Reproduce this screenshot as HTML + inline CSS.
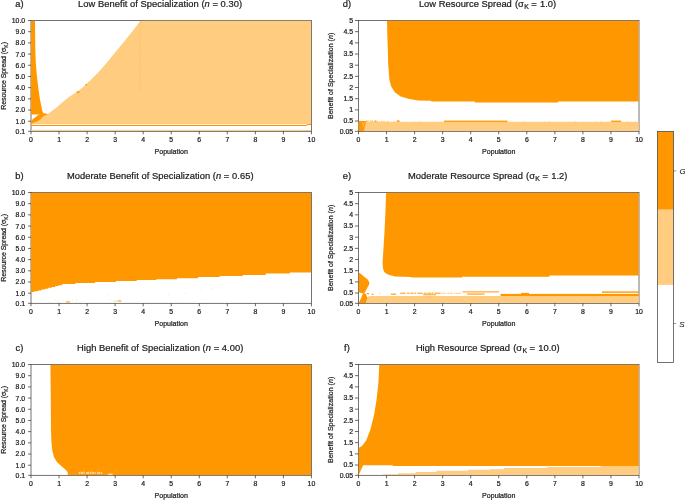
<!DOCTYPE html>
<html lang="en"><head><meta charset="utf-8"><title>Specialization figure</title>
<style>html,body{margin:0;padding:0;background:#fff}svg{display:block}text{font-family:"Liberation Sans", sans-serif;fill:#1a1a1a;stroke:#222;stroke-width:.22px}</style>
</head><body>
<svg width="685" height="500" viewBox="0 0 685 500">
<rect width="685" height="500" fill="#fff"/>
<rect x="31.00" y="20.50" width="280.45" height="110.80" fill="none" stroke="#383838" stroke-width="0.7"/>
<path d="M31.00 131.30v3.0M59.05 131.30v3.0M87.09 131.30v3.0M115.13 131.30v3.0M143.18 131.30v3.0M171.22 131.30v3.0M199.27 131.30v3.0M227.31 131.30v3.0M255.36 131.30v3.0M283.40 131.30v3.0M311.45 131.30v3.0M31.00 20.50h-2.9M31.00 31.69h-2.9M31.00 42.88h-2.9M31.00 54.07h-2.9M31.00 65.26h-2.9M31.00 76.45h-2.9M31.00 87.64h-2.9M31.00 98.83h-2.9M31.00 110.02h-2.9M31.00 121.21h-2.9M31.00 131.30h-2.9" stroke="#383838" stroke-width="0.75" fill="none"/>
<text x="31.00" y="141.70" font-size="6.90" text-anchor="middle" >0</text>
<text x="59.05" y="141.70" font-size="6.90" text-anchor="middle" >1</text>
<text x="87.09" y="141.70" font-size="6.90" text-anchor="middle" >2</text>
<text x="115.13" y="141.70" font-size="6.90" text-anchor="middle" >3</text>
<text x="143.18" y="141.70" font-size="6.90" text-anchor="middle" >4</text>
<text x="171.22" y="141.70" font-size="6.90" text-anchor="middle" >5</text>
<text x="199.27" y="141.70" font-size="6.90" text-anchor="middle" >6</text>
<text x="227.31" y="141.70" font-size="6.90" text-anchor="middle" >7</text>
<text x="255.36" y="141.70" font-size="6.90" text-anchor="middle" >8</text>
<text x="283.40" y="141.70" font-size="6.90" text-anchor="middle" >9</text>
<text x="311.45" y="141.70" font-size="6.90" text-anchor="middle" >10</text>
<text x="25.20" y="22.95" font-size="6.90" text-anchor="end" >10.0</text>
<text x="25.20" y="34.14" font-size="6.90" text-anchor="end" >9.0</text>
<text x="25.20" y="45.33" font-size="6.90" text-anchor="end" >8.0</text>
<text x="25.20" y="56.52" font-size="6.90" text-anchor="end" >7.0</text>
<text x="25.20" y="67.71" font-size="6.90" text-anchor="end" >6.0</text>
<text x="25.20" y="78.90" font-size="6.90" text-anchor="end" >5.0</text>
<text x="25.20" y="90.09" font-size="6.90" text-anchor="end" >4.0</text>
<text x="25.20" y="101.28" font-size="6.90" text-anchor="end" >3.0</text>
<text x="25.20" y="112.47" font-size="6.90" text-anchor="end" >2.0</text>
<text x="25.20" y="123.66" font-size="6.90" text-anchor="end" >1.0</text>
<text x="25.20" y="133.75" font-size="6.90" text-anchor="end" >0.1</text>
<text x="171.22" y="153.60" font-size="7.05" text-anchor="middle" >Population</text>
<text transform="translate(6.20 75.90) rotate(-90)" font-size="7.05" text-anchor="middle" textLength="67.8" lengthAdjust="spacing">Resource Spread (σ<tspan font-size="5" dy="1.3">K</tspan><tspan dy="-1.3">)</tspan></text>
<rect x="358.50" y="20.50" width="280.50" height="110.80" fill="none" stroke="#383838" stroke-width="0.7"/>
<path d="M358.50 131.30v3.0M386.55 131.30v3.0M414.60 131.30v3.0M442.65 131.30v3.0M470.70 131.30v3.0M498.75 131.30v3.0M526.80 131.30v3.0M554.85 131.30v3.0M582.90 131.30v3.0M610.95 131.30v3.0M639.00 131.30v3.0M358.50 20.50h-3.6M358.50 31.67h-3.6M358.50 42.84h-3.6M358.50 54.01h-3.6M358.50 65.18h-3.6M358.50 76.35h-3.6M358.50 87.52h-3.6M358.50 98.69h-3.6M358.50 109.86h-3.6M358.50 121.03h-3.6M358.50 131.30h-3.6" stroke="#383838" stroke-width="0.75" fill="none"/>
<text x="358.50" y="141.70" font-size="6.90" text-anchor="middle" >0</text>
<text x="386.55" y="141.70" font-size="6.90" text-anchor="middle" >1</text>
<text x="414.60" y="141.70" font-size="6.90" text-anchor="middle" >2</text>
<text x="442.65" y="141.70" font-size="6.90" text-anchor="middle" >3</text>
<text x="470.70" y="141.70" font-size="6.90" text-anchor="middle" >4</text>
<text x="498.75" y="141.70" font-size="6.90" text-anchor="middle" >5</text>
<text x="526.80" y="141.70" font-size="6.90" text-anchor="middle" >6</text>
<text x="554.85" y="141.70" font-size="6.90" text-anchor="middle" >7</text>
<text x="582.90" y="141.70" font-size="6.90" text-anchor="middle" >8</text>
<text x="610.95" y="141.70" font-size="6.90" text-anchor="middle" >9</text>
<text x="639.00" y="141.70" font-size="6.90" text-anchor="middle" >10</text>
<text x="353.10" y="22.95" font-size="6.90" text-anchor="end" >5</text>
<text x="353.10" y="34.12" font-size="6.90" text-anchor="end" >4.5</text>
<text x="353.10" y="45.29" font-size="6.90" text-anchor="end" >4</text>
<text x="353.10" y="56.46" font-size="6.90" text-anchor="end" >3.5</text>
<text x="353.10" y="67.63" font-size="6.90" text-anchor="end" >3</text>
<text x="353.10" y="78.80" font-size="6.90" text-anchor="end" >2.5</text>
<text x="353.10" y="89.97" font-size="6.90" text-anchor="end" >2</text>
<text x="353.10" y="101.14" font-size="6.90" text-anchor="end" >1.5</text>
<text x="353.10" y="112.31" font-size="6.90" text-anchor="end" >1</text>
<text x="353.10" y="123.48" font-size="6.90" text-anchor="end" >0.5</text>
<text x="353.10" y="133.75" font-size="6.90" text-anchor="end" >0.05</text>
<text x="498.75" y="153.60" font-size="7.05" text-anchor="middle" >Population</text>
<text transform="translate(332.80 75.90) rotate(-90)" font-size="7.05" text-anchor="middle" textLength="86.3" lengthAdjust="spacing">Benefit of Specialization (<tspan font-style="italic">n</tspan>)</text>
<rect x="31.00" y="192.50" width="280.45" height="110.80" fill="none" stroke="#383838" stroke-width="0.7"/>
<path d="M31.00 303.30v3.0M59.05 303.30v3.0M87.09 303.30v3.0M115.13 303.30v3.0M143.18 303.30v3.0M171.22 303.30v3.0M199.27 303.30v3.0M227.31 303.30v3.0M255.36 303.30v3.0M283.40 303.30v3.0M311.45 303.30v3.0M31.00 192.50h-2.9M31.00 203.69h-2.9M31.00 214.88h-2.9M31.00 226.07h-2.9M31.00 237.26h-2.9M31.00 248.45h-2.9M31.00 259.64h-2.9M31.00 270.83h-2.9M31.00 282.02h-2.9M31.00 293.21h-2.9M31.00 303.30h-2.9" stroke="#383838" stroke-width="0.75" fill="none"/>
<text x="31.00" y="313.70" font-size="6.90" text-anchor="middle" >0</text>
<text x="59.05" y="313.70" font-size="6.90" text-anchor="middle" >1</text>
<text x="87.09" y="313.70" font-size="6.90" text-anchor="middle" >2</text>
<text x="115.13" y="313.70" font-size="6.90" text-anchor="middle" >3</text>
<text x="143.18" y="313.70" font-size="6.90" text-anchor="middle" >4</text>
<text x="171.22" y="313.70" font-size="6.90" text-anchor="middle" >5</text>
<text x="199.27" y="313.70" font-size="6.90" text-anchor="middle" >6</text>
<text x="227.31" y="313.70" font-size="6.90" text-anchor="middle" >7</text>
<text x="255.36" y="313.70" font-size="6.90" text-anchor="middle" >8</text>
<text x="283.40" y="313.70" font-size="6.90" text-anchor="middle" >9</text>
<text x="311.45" y="313.70" font-size="6.90" text-anchor="middle" >10</text>
<text x="25.20" y="194.95" font-size="6.90" text-anchor="end" >10.0</text>
<text x="25.20" y="206.14" font-size="6.90" text-anchor="end" >9.0</text>
<text x="25.20" y="217.33" font-size="6.90" text-anchor="end" >8.0</text>
<text x="25.20" y="228.52" font-size="6.90" text-anchor="end" >7.0</text>
<text x="25.20" y="239.71" font-size="6.90" text-anchor="end" >6.0</text>
<text x="25.20" y="250.90" font-size="6.90" text-anchor="end" >5.0</text>
<text x="25.20" y="262.09" font-size="6.90" text-anchor="end" >4.0</text>
<text x="25.20" y="273.28" font-size="6.90" text-anchor="end" >3.0</text>
<text x="25.20" y="284.47" font-size="6.90" text-anchor="end" >2.0</text>
<text x="25.20" y="295.66" font-size="6.90" text-anchor="end" >1.0</text>
<text x="25.20" y="305.75" font-size="6.90" text-anchor="end" >0.1</text>
<text x="171.22" y="325.60" font-size="7.05" text-anchor="middle" >Population</text>
<text transform="translate(6.20 247.90) rotate(-90)" font-size="7.05" text-anchor="middle" textLength="67.8" lengthAdjust="spacing">Resource Spread (σ<tspan font-size="5" dy="1.3">K</tspan><tspan dy="-1.3">)</tspan></text>
<rect x="358.50" y="192.50" width="280.50" height="110.80" fill="none" stroke="#383838" stroke-width="0.7"/>
<path d="M358.50 303.30v3.0M386.55 303.30v3.0M414.60 303.30v3.0M442.65 303.30v3.0M470.70 303.30v3.0M498.75 303.30v3.0M526.80 303.30v3.0M554.85 303.30v3.0M582.90 303.30v3.0M610.95 303.30v3.0M639.00 303.30v3.0M358.50 192.50h-3.6M358.50 203.67h-3.6M358.50 214.84h-3.6M358.50 226.01h-3.6M358.50 237.18h-3.6M358.50 248.35h-3.6M358.50 259.52h-3.6M358.50 270.69h-3.6M358.50 281.86h-3.6M358.50 293.03h-3.6M358.50 303.30h-3.6" stroke="#383838" stroke-width="0.75" fill="none"/>
<text x="358.50" y="313.70" font-size="6.90" text-anchor="middle" >0</text>
<text x="386.55" y="313.70" font-size="6.90" text-anchor="middle" >1</text>
<text x="414.60" y="313.70" font-size="6.90" text-anchor="middle" >2</text>
<text x="442.65" y="313.70" font-size="6.90" text-anchor="middle" >3</text>
<text x="470.70" y="313.70" font-size="6.90" text-anchor="middle" >4</text>
<text x="498.75" y="313.70" font-size="6.90" text-anchor="middle" >5</text>
<text x="526.80" y="313.70" font-size="6.90" text-anchor="middle" >6</text>
<text x="554.85" y="313.70" font-size="6.90" text-anchor="middle" >7</text>
<text x="582.90" y="313.70" font-size="6.90" text-anchor="middle" >8</text>
<text x="610.95" y="313.70" font-size="6.90" text-anchor="middle" >9</text>
<text x="639.00" y="313.70" font-size="6.90" text-anchor="middle" >10</text>
<text x="353.10" y="194.95" font-size="6.90" text-anchor="end" >5</text>
<text x="353.10" y="206.12" font-size="6.90" text-anchor="end" >4.5</text>
<text x="353.10" y="217.29" font-size="6.90" text-anchor="end" >4</text>
<text x="353.10" y="228.46" font-size="6.90" text-anchor="end" >3.5</text>
<text x="353.10" y="239.63" font-size="6.90" text-anchor="end" >3</text>
<text x="353.10" y="250.80" font-size="6.90" text-anchor="end" >2.5</text>
<text x="353.10" y="261.97" font-size="6.90" text-anchor="end" >2</text>
<text x="353.10" y="273.14" font-size="6.90" text-anchor="end" >1.5</text>
<text x="353.10" y="284.31" font-size="6.90" text-anchor="end" >1</text>
<text x="353.10" y="295.48" font-size="6.90" text-anchor="end" >0.5</text>
<text x="353.10" y="305.75" font-size="6.90" text-anchor="end" >0.05</text>
<text x="498.75" y="325.60" font-size="7.05" text-anchor="middle" >Population</text>
<text transform="translate(332.80 247.90) rotate(-90)" font-size="7.05" text-anchor="middle" textLength="86.3" lengthAdjust="spacing">Benefit of Specialization (<tspan font-style="italic">n</tspan>)</text>
<rect x="31.00" y="364.50" width="280.45" height="110.80" fill="none" stroke="#383838" stroke-width="0.7"/>
<path d="M31.00 475.30v3.0M59.05 475.30v3.0M87.09 475.30v3.0M115.13 475.30v3.0M143.18 475.30v3.0M171.22 475.30v3.0M199.27 475.30v3.0M227.31 475.30v3.0M255.36 475.30v3.0M283.40 475.30v3.0M311.45 475.30v3.0M31.00 364.50h-2.9M31.00 375.69h-2.9M31.00 386.88h-2.9M31.00 398.07h-2.9M31.00 409.26h-2.9M31.00 420.45h-2.9M31.00 431.64h-2.9M31.00 442.83h-2.9M31.00 454.02h-2.9M31.00 465.21h-2.9M31.00 475.30h-2.9" stroke="#383838" stroke-width="0.75" fill="none"/>
<text x="31.00" y="485.70" font-size="6.90" text-anchor="middle" >0</text>
<text x="59.05" y="485.70" font-size="6.90" text-anchor="middle" >1</text>
<text x="87.09" y="485.70" font-size="6.90" text-anchor="middle" >2</text>
<text x="115.13" y="485.70" font-size="6.90" text-anchor="middle" >3</text>
<text x="143.18" y="485.70" font-size="6.90" text-anchor="middle" >4</text>
<text x="171.22" y="485.70" font-size="6.90" text-anchor="middle" >5</text>
<text x="199.27" y="485.70" font-size="6.90" text-anchor="middle" >6</text>
<text x="227.31" y="485.70" font-size="6.90" text-anchor="middle" >7</text>
<text x="255.36" y="485.70" font-size="6.90" text-anchor="middle" >8</text>
<text x="283.40" y="485.70" font-size="6.90" text-anchor="middle" >9</text>
<text x="311.45" y="485.70" font-size="6.90" text-anchor="middle" >10</text>
<text x="25.20" y="366.95" font-size="6.90" text-anchor="end" >10.0</text>
<text x="25.20" y="378.14" font-size="6.90" text-anchor="end" >9.0</text>
<text x="25.20" y="389.33" font-size="6.90" text-anchor="end" >8.0</text>
<text x="25.20" y="400.52" font-size="6.90" text-anchor="end" >7.0</text>
<text x="25.20" y="411.71" font-size="6.90" text-anchor="end" >6.0</text>
<text x="25.20" y="422.90" font-size="6.90" text-anchor="end" >5.0</text>
<text x="25.20" y="434.09" font-size="6.90" text-anchor="end" >4.0</text>
<text x="25.20" y="445.28" font-size="6.90" text-anchor="end" >3.0</text>
<text x="25.20" y="456.47" font-size="6.90" text-anchor="end" >2.0</text>
<text x="25.20" y="467.66" font-size="6.90" text-anchor="end" >1.0</text>
<text x="25.20" y="477.75" font-size="6.90" text-anchor="end" >0.1</text>
<text x="171.22" y="497.60" font-size="7.05" text-anchor="middle" >Population</text>
<text transform="translate(6.20 419.90) rotate(-90)" font-size="7.05" text-anchor="middle" textLength="67.8" lengthAdjust="spacing">Resource Spread (σ<tspan font-size="5" dy="1.3">K</tspan><tspan dy="-1.3">)</tspan></text>
<rect x="358.50" y="364.50" width="280.50" height="110.80" fill="none" stroke="#383838" stroke-width="0.7"/>
<path d="M358.50 475.30v3.0M386.55 475.30v3.0M414.60 475.30v3.0M442.65 475.30v3.0M470.70 475.30v3.0M498.75 475.30v3.0M526.80 475.30v3.0M554.85 475.30v3.0M582.90 475.30v3.0M610.95 475.30v3.0M639.00 475.30v3.0M358.50 364.50h-3.6M358.50 375.67h-3.6M358.50 386.84h-3.6M358.50 398.01h-3.6M358.50 409.18h-3.6M358.50 420.35h-3.6M358.50 431.52h-3.6M358.50 442.69h-3.6M358.50 453.86h-3.6M358.50 465.03h-3.6M358.50 475.30h-3.6" stroke="#383838" stroke-width="0.75" fill="none"/>
<text x="358.50" y="485.70" font-size="6.90" text-anchor="middle" >0</text>
<text x="386.55" y="485.70" font-size="6.90" text-anchor="middle" >1</text>
<text x="414.60" y="485.70" font-size="6.90" text-anchor="middle" >2</text>
<text x="442.65" y="485.70" font-size="6.90" text-anchor="middle" >3</text>
<text x="470.70" y="485.70" font-size="6.90" text-anchor="middle" >4</text>
<text x="498.75" y="485.70" font-size="6.90" text-anchor="middle" >5</text>
<text x="526.80" y="485.70" font-size="6.90" text-anchor="middle" >6</text>
<text x="554.85" y="485.70" font-size="6.90" text-anchor="middle" >7</text>
<text x="582.90" y="485.70" font-size="6.90" text-anchor="middle" >8</text>
<text x="610.95" y="485.70" font-size="6.90" text-anchor="middle" >9</text>
<text x="639.00" y="485.70" font-size="6.90" text-anchor="middle" >10</text>
<text x="353.10" y="366.95" font-size="6.90" text-anchor="end" >5</text>
<text x="353.10" y="378.12" font-size="6.90" text-anchor="end" >4.5</text>
<text x="353.10" y="389.29" font-size="6.90" text-anchor="end" >4</text>
<text x="353.10" y="400.46" font-size="6.90" text-anchor="end" >3.5</text>
<text x="353.10" y="411.63" font-size="6.90" text-anchor="end" >3</text>
<text x="353.10" y="422.80" font-size="6.90" text-anchor="end" >2.5</text>
<text x="353.10" y="433.97" font-size="6.90" text-anchor="end" >2</text>
<text x="353.10" y="445.14" font-size="6.90" text-anchor="end" >1.5</text>
<text x="353.10" y="456.31" font-size="6.90" text-anchor="end" >1</text>
<text x="353.10" y="467.48" font-size="6.90" text-anchor="end" >0.5</text>
<text x="353.10" y="477.75" font-size="6.90" text-anchor="end" >0.05</text>
<text x="498.75" y="497.60" font-size="7.05" text-anchor="middle" >Population</text>
<text transform="translate(332.80 419.90) rotate(-90)" font-size="7.05" text-anchor="middle" textLength="86.3" lengthAdjust="spacing">Benefit of Specialization (<tspan font-style="italic">n</tspan>)</text>
<clipPath id="c0"><rect x="31.00" y="20.80" width="280.15" height="110.20"/></clipPath>
<g clip-path="url(#c0)">
<polygon fill="#FFCC80" points="31.0,124.0 32.0,123.2 37.0,121.5 40.5,119.0 43.0,116.5 46.0,114.8 48.0,114.0 51.0,111.7 53.0,110.1 56.0,108.0 58.0,106.3 61.0,103.6 64.0,100.9 70.0,96.2 76.0,92.6 82.0,88.0 88.0,82.6 94.0,76.8 100.0,70.5 107.0,62.5 113.0,55.0 119.0,47.8 125.0,40.5 131.0,33.0 136.0,26.5 140.6,20.5 311.4,20.5 311.4,124.0"/>
<polygon fill="#FF9800" points="31.0,20.5 35.0,20.5 35.3,50.0 35.8,63.0 36.8,75.0 38.2,87.0 39.9,99.0 42.3,111.0 43.5,113.5 47.0,113.8 47.5,114.6 31.0,114.6"/>
<polygon fill="#FF9800" points="31.0,120.7 38.8,114.5 43.5,113.5 48.2,114.2 46.0,115.0 43.0,116.8 40.5,119.2 37.0,121.7 34.5,122.4 32.0,123.5 31.0,124.0"/>
<rect x="31.0" y="124.9" width="275.9" height="1.1" fill="#FF9800"/>
<rect x="31.0" y="129.9" width="280.4" height="1.4" fill="#FFCC80"/>
<rect x="306.7" y="124.0" width="4.8" height="1.1" fill="#FF9800"/>
<rect x="76.5" y="91.5" width="3.0" height="1.5" fill="#FF9800"/>
<rect x="85.5" y="84.0" width="1.5" height="1.5" fill="#FF9800"/>
<line x1="140.4" y1="21" x2="140.4" y2="92" stroke="#ffbd5c" stroke-width="0.6" stroke-dasharray="2.2 1"/>
</g>
<clipPath id="c1"><rect x="31.00" y="192.80" width="280.15" height="110.20"/></clipPath>
<g clip-path="url(#c1)">
<polygon fill="#FF9800" points="31.0,192.5 311.4,192.5 311.4,272.5 289.8,272.5 289.8,273.6 265.7,273.6 265.7,274.9 242.7,274.9 242.7,276.0 219.7,276.0 219.7,277.1 198.0,277.1 198.0,278.2 177.0,278.2 177.0,279.3 156.4,279.3 156.4,279.9 136.7,279.9 136.7,280.9 115.9,280.9 115.9,282.0 95.1,282.0 95.1,283.0 75.4,283.0 75.4,284.1 62.2,284.1 62.2,285.2 58.7,285.2 58.7,286.1 55.3,286.1 55.3,286.9 51.8,286.9 51.8,287.8 48.3,287.8 48.3,288.7 44.9,288.7 44.9,289.5 41.4,289.5 41.4,290.4 37.9,290.4 37.9,291.3 34.5,291.3 34.5,292.1 31.0,292.1 31.0,293.0"/>
<rect x="65.8" y="301.3" width="4.2" height="1.3" fill="#ffb347"/>
<rect x="117.5" y="300.3" width="3.9" height="1.4" fill="#ffb347"/>
<rect x="113.2" y="300.6" width="4.3" height="1.0" fill="#ffdcab"/>
<rect x="41.3" y="299.8" width="0.9" height="1.0" fill="#ffe3bd"/>
<rect x="54.8" y="299.6" width="0.9" height="1.0" fill="#ffe3bd"/>
<rect x="56.6" y="300.7" width="0.9" height="1.0" fill="#ffe3bd"/>
<rect x="58.6" y="300.2" width="0.9" height="1.0" fill="#ffe3bd"/>
<rect x="57.4" y="302.0" width="0.9" height="1.0" fill="#ffe3bd"/>
<rect x="62.2" y="299.7" width="0.9" height="1.0" fill="#ffe3bd"/>
<rect x="67.6" y="298.6" width="0.9" height="1.0" fill="#ffe3bd"/>
<rect x="72.0" y="299.6" width="0.9" height="1.0" fill="#ffe3bd"/>
<rect x="76.0" y="299.8" width="0.9" height="1.0" fill="#ffe3bd"/>
<rect x="76.2" y="301.6" width="0.9" height="1.0" fill="#ffe3bd"/>
<rect x="93.2" y="298.6" width="0.9" height="1.0" fill="#ffe3bd"/>
<rect x="107.7" y="295.2" width="0.9" height="1.0" fill="#ffe3bd"/>
<rect x="109.6" y="299.6" width="0.9" height="1.0" fill="#ffe3bd"/>
<rect x="49.5" y="301.6" width="0.9" height="1.0" fill="#ffe3bd"/>
<rect x="168.3" y="294.0" width="0.9" height="1.0" fill="#ffe3bd"/>
<rect x="185.0" y="293.0" width="0.9" height="1.0" fill="#ffe3bd"/>
<rect x="201.0" y="289.6" width="0.9" height="1.0" fill="#ffe3bd"/>
<rect x="212.0" y="288.0" width="0.9" height="1.0" fill="#ffe3bd"/>
<rect x="202.0" y="299.0" width="0.9" height="1.0" fill="#ffe3bd"/>
<rect x="234.0" y="290.7" width="0.9" height="1.0" fill="#ffe3bd"/>
<rect x="252.6" y="286.3" width="0.9" height="1.0" fill="#ffe3bd"/>
<rect x="178.0" y="301.4" width="0.9" height="1.0" fill="#ffe3bd"/>
</g>
<clipPath id="c2"><rect x="31.00" y="364.80" width="280.15" height="110.20"/></clipPath>
<g clip-path="url(#c2)">
<polygon fill="#FF9800" points="50.4,364.5 311.4,364.5 311.4,475.3 68.0,475.3 67.6,472.1 65.6,469.7 61.5,466.2 56.9,462.1 53.9,456.9 52.2,449.9 51.4,441.7 51.0,430.0 50.8,400.0"/>
<line x1="78.8" y1="473.0" x2="102" y2="473.0" stroke="#ffe2bd" stroke-width="1.5" stroke-dasharray="1.2 0.7 2.6 0.9 0.8 1.1 3.1 0.6"/>
<line x1="80" y1="471.9" x2="99" y2="471.9" stroke="#ffcf8f" stroke-width="0.8" stroke-dasharray="0.8 2.3 1.4 3.9"/>
<rect x="108.0" y="473.7" width="4.5" height="1.0" fill="#ffe8cc"/>
<rect x="70.2" y="467.2" width="0.7" height="0.7" fill="#ffd9a6"/>
<rect x="97.8" y="469.6" width="0.7" height="0.8" fill="#ffd9a6"/>
<rect x="114.8" y="470.4" width="0.8" height="0.8" fill="#ffc780"/>
</g>
<clipPath id="c3"><rect x="358.50" y="20.80" width="280.20" height="110.20"/></clipPath>
<g clip-path="url(#c3)">
<rect x="358.5" y="121.8" width="280.5" height="9.5" fill="#FFCC80"/>
<line x1="366" y1="121.3" x2="388" y2="121.3" stroke="#FFCC80" stroke-width="1.2" stroke-dasharray="1.6 0.9 0.7 1.3 2.4 0.8 1.1 1.7"/>
<line x1="388" y1="121.6" x2="639.0" y2="121.6" stroke="#FFCC80" stroke-width="0.6" stroke-dasharray="0.9 4.3 1.6 7.1 0.7 11.3"/>
<polygon fill="#FF9800" points="358.5,120.9 366.2,121.0 365.6,124.0 364.6,127.5 364.0,131.3 358.5,131.3"/>
<path d="M361.6 122.3L363.3 124.6L365.5 121.6M363.3 124.6L362.9 127.2" stroke="#FFCC80" stroke-width="0.7" fill="none"/>
<rect x="444.0" y="120.6" width="63.5" height="1.3" fill="#FF9800"/>
<rect x="611.0" y="120.6" width="10.0" height="1.3" fill="#FF9800"/>
<rect x="396.8" y="120.4" width="2.7" height="1.5" fill="#FF9800"/>
<rect x="374.5" y="120.6" width="1.8" height="1.3" fill="#FF9800"/>
<line x1="366.5" y1="120.9" x2="373" y2="120.9" stroke="#FF9800" stroke-width="0.7" stroke-dasharray="1.1 0.8 0.6 1.2"/>
<polygon fill="#FF9800" points="387.0,20.5 639.0,20.5 639.0,101.6 558.0,101.6 558.0,102.5 474.7,102.5 474.7,101.6 431.3,101.6 431.3,100.8 418.2,100.4 409.4,98.9 400.7,96.4 394.8,92.3 391.2,86.5 389.3,79.2 388.2,64.6 387.8,50.0 387.3,35.0"/>
</g>
<clipPath id="c4"><rect x="358.50" y="192.80" width="280.20" height="110.20"/></clipPath>
<g clip-path="url(#c4)">
<polygon fill="#FFCC80" points="364.5,303.3 366.0,297.8 368.6,296.6 370.8,295.9 639.0,295.9 639.0,303.3"/>
<polygon fill="#FF9800" points="386.1,192.5 639.0,192.5 639.0,275.5 549.5,275.5 549.5,276.7 462.0,276.7 462.0,277.6 411.5,277.6 411.5,276.9 395.3,276.4 389.2,275.1 386.5,273.8 384.3,272.0 383.0,268.5 382.6,262.0 383.5,248.0 384.6,230.0 385.5,210.0"/>
<polygon fill="#FF9800" points="358.5,272.3 361.0,274.0 363.8,276.4 366.0,278.0 368.1,279.9 369.4,282.5 369.0,284.7 366.4,289.5 364.2,293.5 362.9,293.6 358.5,292.2"/>
<polygon fill="#FF9800" points="363.2,293.3 365.9,293.8 367.3,297.8 365.9,302.7 365.8,303.3 358.5,303.3 359.0,302.4"/>
<rect x="366.8" y="293.0" width="2.2" height="1.2" fill="#FF9800"/>
<rect x="371.6" y="293.7" width="2.2" height="1.0" fill="#FF9800"/>
<rect x="379.0" y="293.2" width="0.8" height="0.7" fill="#FF9800"/>
<rect x="390.9" y="293.6" width="5.3" height="1.1" fill="#FF9800"/>
<line x1="400.1" y1="293.2" x2="440" y2="293.2" stroke="#FF9800" stroke-width="1.0" stroke-dasharray="5.6 1.3 2.4 0.9 3.3 0.7 1.9 1.1"/>
<rect x="423.0" y="294.3" width="13.0" height="1.0" fill="#FF9800"/>
<line x1="440" y1="293.2" x2="462" y2="293.2" stroke="#ffc46e" stroke-width="1.1" stroke-dasharray="1.5 0.8 2.6 1.2 0.9 0.7"/>
<rect x="462.6" y="291.4" width="36.4" height="1.0" fill="#FF9800"/>
<rect x="467.0" y="293.5" width="17.5" height="1.1" fill="#FF9800"/>
<rect x="500.6" y="293.9" width="138.4" height="2.1" fill="#FF9800"/>
<rect x="521.0" y="292.9" width="8.0" height="1.1" fill="#FF9800"/>
<rect x="602.0" y="291.4" width="37.0" height="1.4" fill="#FF9800"/>
</g>
<clipPath id="c5"><rect x="358.50" y="364.80" width="280.20" height="110.20"/></clipPath>
<g clip-path="url(#c5)">
<polygon fill="#FF9800" points="379.3,364.5 639.0,364.5 639.0,466.0 392.7,466.0 392.7,465.2 363.2,465.2 358.5,475.3 358.5,448.0 362.0,445.9 366.3,440.3 370.4,429.5 374.0,415.2 376.4,400.8 378.3,384.0"/>
<polygon fill="#FFCC80" points="382.8,475.3 382.8,474.3 398.0,474.3 398.0,473.2 415.7,473.2 415.7,472.1 436.5,472.1 436.5,470.8 468.0,470.8 468.0,469.7 490.0,469.7 490.0,469.2 504.0,469.2 504.0,468.1 547.0,468.1 547.0,467.0 600.6,467.0 600.6,466.0 639.0,466.0 639.0,475.3"/>
</g>
<text x="19.40" y="7.20" font-size="9.35" text-anchor="middle" >a)</text>
<text x="346.90" y="7.20" font-size="9.35" text-anchor="middle" >d)</text>
<text x="78.10" y="7.20" font-size="9.35" textLength="164.0" lengthAdjust="spacing">Low Benefit of Specialization (<tspan font-style="italic">n</tspan> = 0.30)</text>
<text x="418.90" y="7.20" font-size="9.35" textLength="92.9" lengthAdjust="spacing">Low Resource Spread</text>
<text y="7.20" font-size="9.35"><tspan x="514.95">(σ</tspan><tspan x="524.15" dy="1.9" font-size="6.9">K</tspan><tspan x="531.35" dy="-1.9">=</tspan><tspan x="540.05">1.0)</tspan></text>
<text x="19.40" y="179.20" font-size="9.35" text-anchor="middle" >b)</text>
<text x="346.90" y="179.20" font-size="9.35" text-anchor="middle" >e)</text>
<text x="66.90" y="179.20" font-size="9.35" textLength="186.6" lengthAdjust="spacing">Moderate Benefit of Specialization (<tspan font-style="italic">n</tspan> = 0.65)</text>
<text x="408.00" y="179.20" font-size="9.35" textLength="114.9" lengthAdjust="spacing">Moderate Resource Spread</text>
<text y="179.20" font-size="9.35"><tspan x="526.10">(σ</tspan><tspan x="535.30" dy="1.9" font-size="6.9">K</tspan><tspan x="542.50" dy="-1.9">=</tspan><tspan x="551.20">1.2)</tspan></text>
<text x="19.40" y="351.20" font-size="9.35" text-anchor="middle" >c)</text>
<text x="346.90" y="351.20" font-size="9.35" text-anchor="middle" >f)</text>
<text x="77.00" y="351.20" font-size="9.35" textLength="166.3" lengthAdjust="spacing">High Benefit of Specialization (<tspan font-style="italic">n</tspan> = 4.00)</text>
<text x="415.90" y="351.20" font-size="9.35" textLength="94.1" lengthAdjust="spacing">High Resource Spread</text>
<text y="351.20" font-size="9.35"><tspan x="513.20">(σ</tspan><tspan x="522.40" dy="1.9" font-size="6.9">K</tspan><tspan x="529.60" dy="-1.9">=</tspan><tspan x="538.30">10.0)</tspan></text>
<rect x="657.4" y="131.4" width="16.1" height="153.5" fill="#FFCC80"/>
<rect x="657.4" y="131.4" width="16.1" height="78.0" fill="#FF9800"/>
<rect x="657.40" y="131.40" width="16.10" height="231.20" fill="none" stroke="#505050" stroke-width="0.8"/>
<path d="M673.50 170.9h2.6M673.50 323.5h2.6" stroke="#666" stroke-width="0.7"/>
<text x="679.40" y="173.80" font-size="8.00" text-anchor="start" font-style="italic" style="stroke-width:.06px">G</text>
<text x="679.30" y="326.50" font-size="8.00" text-anchor="start" font-style="italic" style="stroke-width:.06px">S</text>
</svg>
</body></html>
